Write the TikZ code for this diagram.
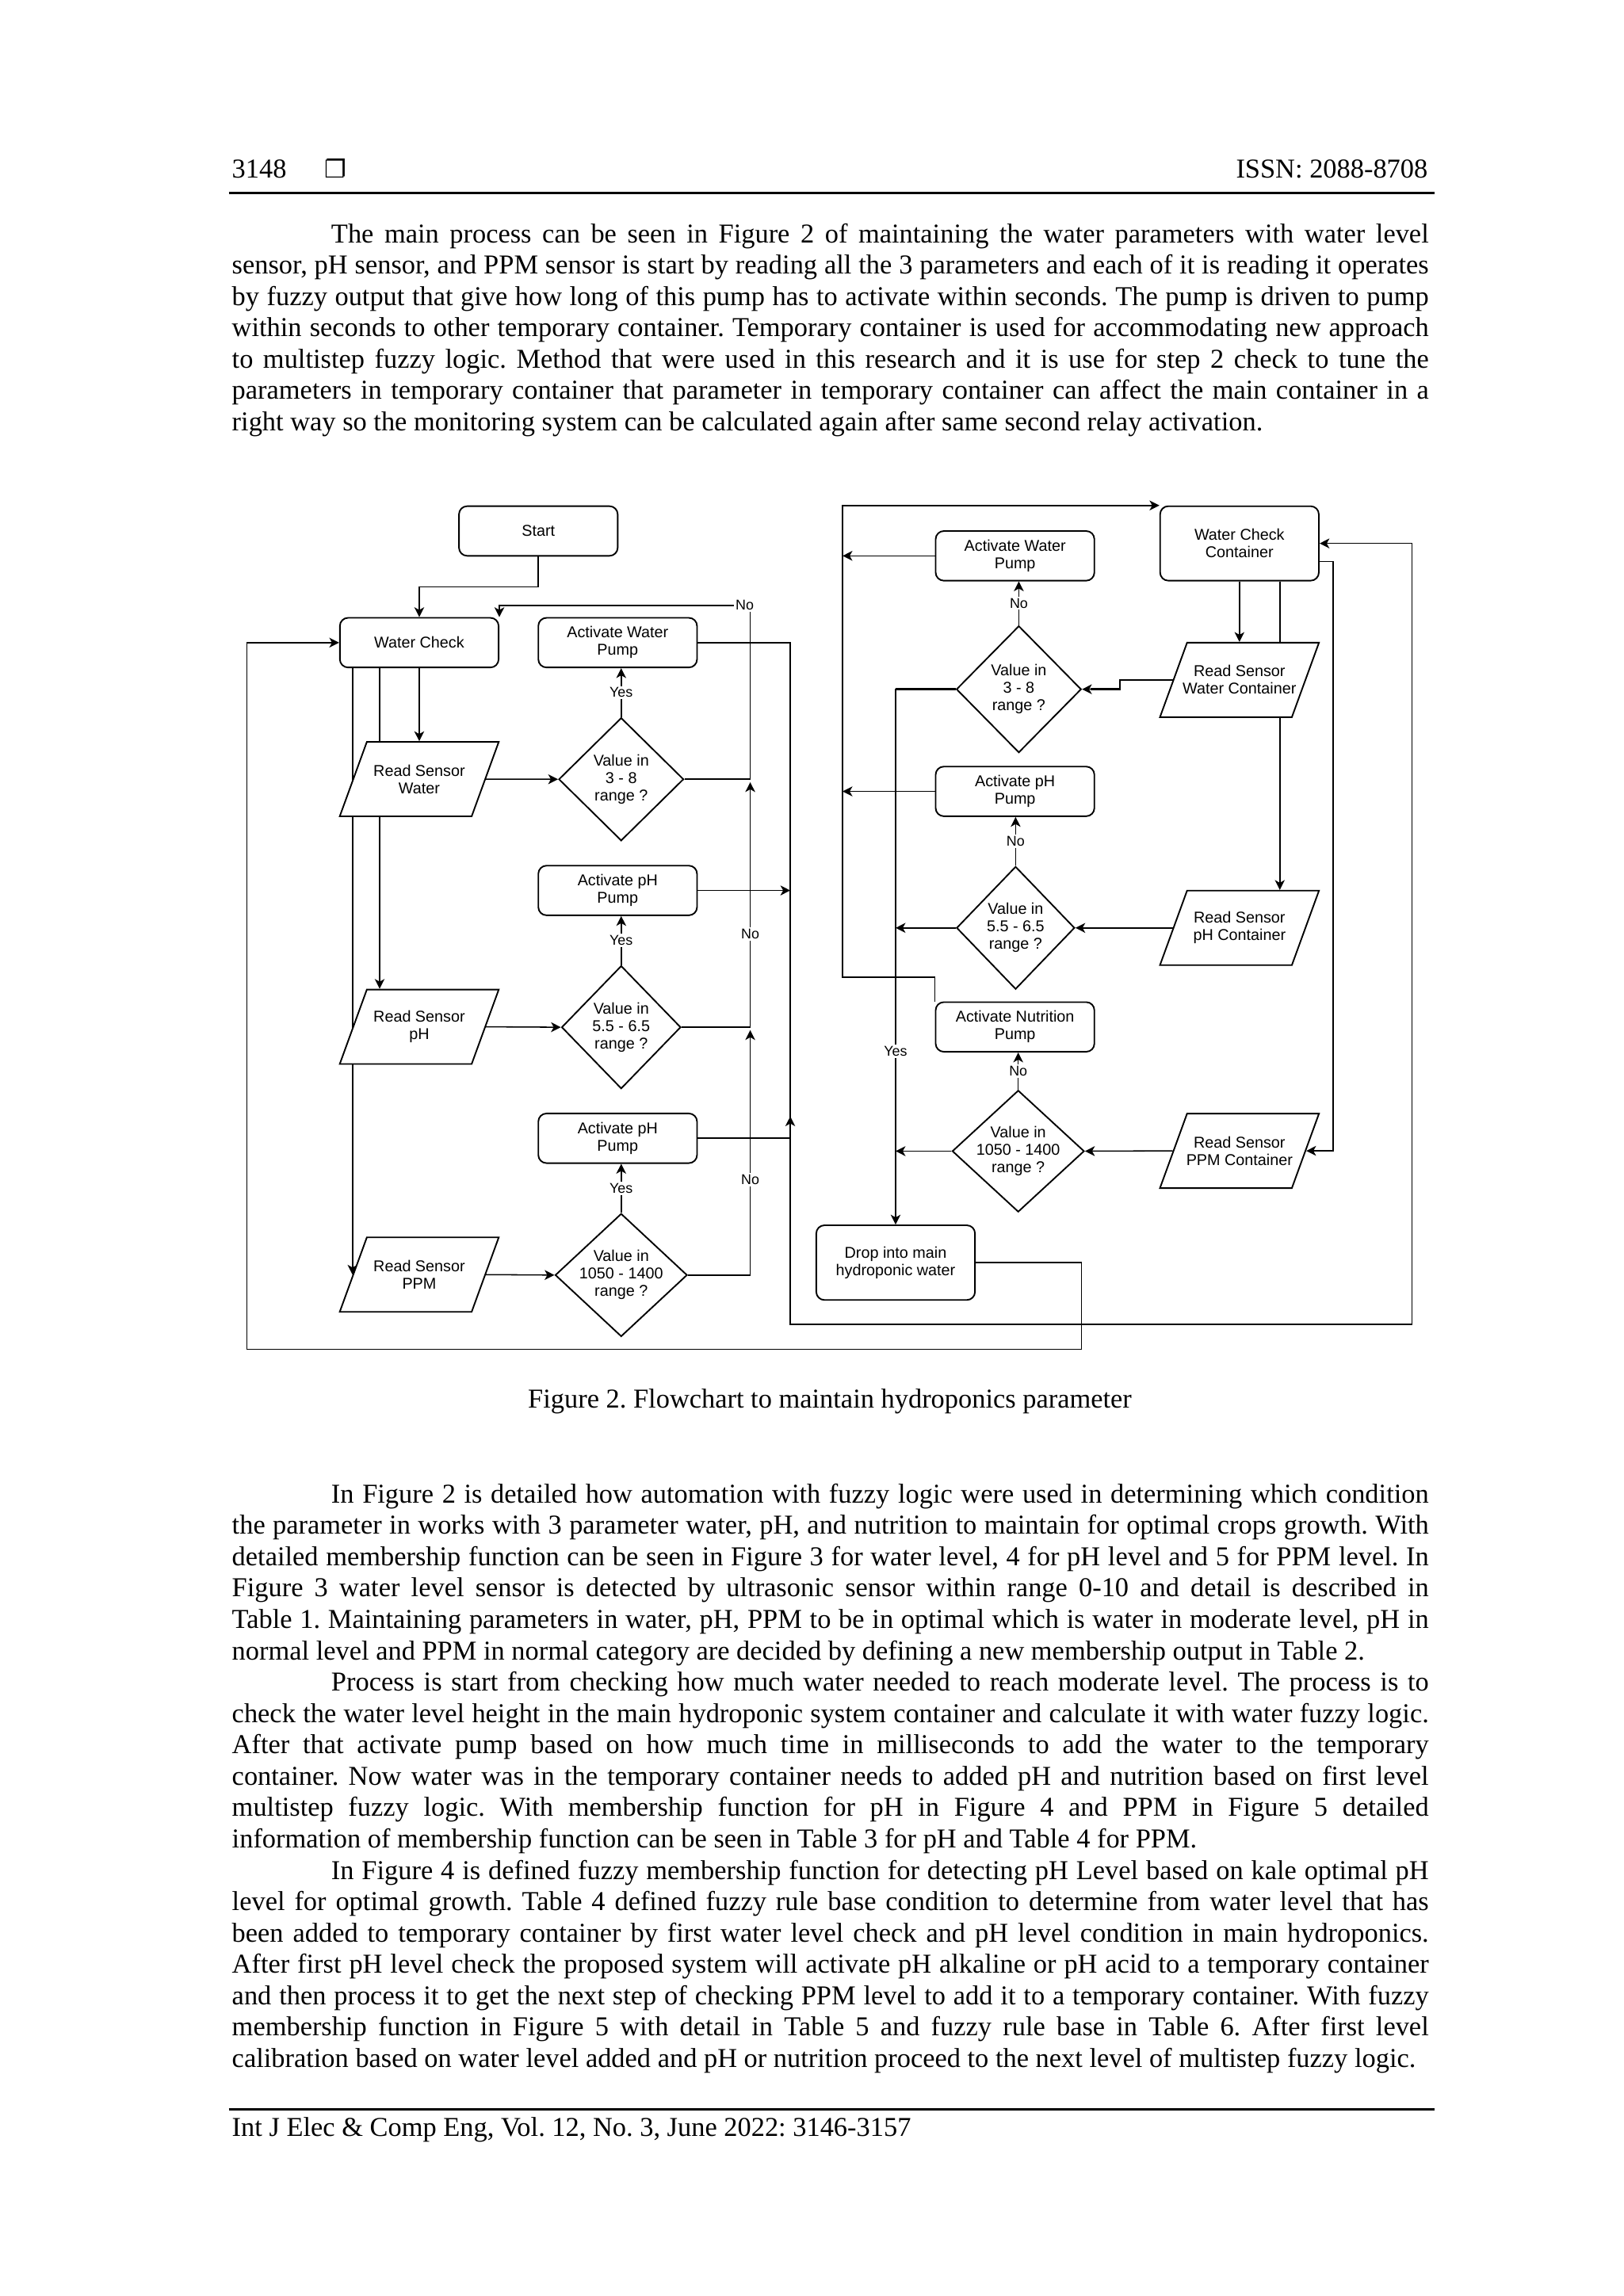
\documentclass[tikz,border=0pt]{standalone}
\usepackage{fontspec}
\setmainfont{Liberation Serif}
\newfontfamily\chartfont{Liberation Sans}
\newfontfamily\boxsym{DejaVu Sans}
\usetikzlibrary{shapes.geometric,arrows.meta,calc,backgrounds}
\tolerance=10000
\hyphenpenalty=10000
\frenchspacing

\begin{document}
\begin{tikzpicture}[x=0.5358pt, y=-0.5358pt,
    body/.style={anchor=base west, inner sep=0pt, text width=438.8pt, align=justify, font=\fontsize{10}{11.5}\selectfont},
    proc/.style={rectangle, draw, rounded corners=3pt, fill=white, line width=0.55pt, minimum width=58.2pt, minimum height=18.2pt, inner sep=1pt, align=center, font=\chartfont\fontsize{5.75}{6.4}\selectfont},
    inout/.style={trapezium, trapezium left angle=70, trapezium right angle=110, trapezium stretches body, draw, fill=white, line width=0.55pt, minimum width=58.3pt, inner sep=0pt, text height=13.65pt, text depth=13.65pt},
    dec/.style={diamond, draw, fill=white, line width=0.55pt, inner sep=0pt, minimum height=45.1pt},
    ftext/.style={align=center, inner sep=0pt, font=\chartfont\fontsize{5.75}{6.4}\selectfont},
    lbl/.style={fill=white, inner sep=0.6pt, font=\chartfont\fontsize{5.2}{5.2}\selectfont},
    wire/.style={line width=0.45pt},
    arr/.style={wire, -{Stealth[length=3.6pt, width=3.6pt, inset=1pt]}}]

    \useasboundingbox (0,0) rectangle (1111,1571.3);
    \begin{pgfonlayer}{background}
        \fill[white] (0,0) rectangle (1111,1571.3);
    \end{pgfonlayer}

    % Page header
    \node[anchor=base west, inner sep=0pt, font=\fontsize{10}{11.5}\selectfont] (pageno) at (158.4,122) {3148};
    \node[anchor=base west, inner sep=0pt, font=\boxsym\fontsize{9}{9}\selectfont] (sym) at (222,122) {❐};
    \node[anchor=base east, inner sep=0pt, font=\fontsize{10}{11.5}\selectfont] (issn) at (977.4,122) {ISSN: 2088-8708};
    \draw[line width=0.7pt] (156.5,132) -- (981.5,132);

    % Text above the figure
    \node[body] (par1) at (158.4,166) {\hspace*{36.4pt}The main process can be seen in Figure 2 of maintaining the water parameters with water level\linebreak
sensor, pH sensor, and PPM sensor is start by reading all the 3 parameters and each of it is reading it operates\linebreak
by fuzzy output that give how long of this pump has to activate within seconds. The pump is driven to pump\linebreak
within seconds to other temporary container. Temporary container is used for accommodating new approach\linebreak
to multistep fuzzy logic. Method that were used in this research and it is use for step 2 check to tune the\linebreak
parameters in temporary container that parameter in temporary container can affect the main container in a\linebreak
right way so the monitoring system can be calculated again after same second relay activation.};

    % Define nodes (left part)
    \node[proc] (start) at (368.4,363.4) {Start};
    \node[proc] (wcheck) at (286.9,439.8) {Water Check};
    \node[proc] (awpL) at (422.7,439.8) {Activate Water\\Pump};
    \node[inout, label={[ftext]center:{Read Sensor\\Water}}] (rsw) at (286.9,533.2) {};
    \node[dec, minimum width=45.8pt, label={[ftext]center:{Value in\\3 - 8\\range ?}}] (d1) at (425.1,533.3) {};
    \node[proc] (aphL1) at (422.7,609.4) {Activate pH\\Pump};
    \node[dec, minimum width=43.7pt, label={[ftext]center:{Value in\\5.5 - 6.5\\range ?}}] (d2) at (425.1,703) {};
    \node[inout, label={[ftext]center:{Read Sensor\\pH}}] (rsph) at (286.9,702.7) {};
    \node[proc] (aphL2) at (422.7,779) {Activate pH\\Pump};
    \node[dec, minimum width=48.4pt, label={[ftext]center:{Value in\\1050 - 1400\\range ?}}] (d3) at (425.1,872.6) {};
    \node[inout, label={[ftext]center:{Read Sensor\\PPM}}] (rsppm) at (286.9,872.3) {};

    % Define nodes (right part)
    \node[proc] (awpR) at (694.6,380.4) {Activate Water\\Pump};
    \node[proc, minimum height=27.3pt] (wcc) at (848.2,371.9) {Water Check\\Container};
    \node[dec, minimum width=45.8pt, minimum height=46.5pt, label={[ftext]center:{Value in\\3 - 8\\range ?}}] (d4) at (697.2,471.7) {};
    \node[inout, label={[ftext]center:{Read Sensor\\Water Container}}] (rswc) at (848.2,465.3) {};
    \node[proc] (aphR) at (694.6,541.6) {Activate pH\\Pump};
    \node[dec, minimum width=43.3pt, minimum height=45pt, label={[ftext]center:{Value in\\5.5 - 6.5\\range ?}}] (d5) at (695,635) {};
    \node[inout, label={[ftext]center:{Read Sensor\\pH Container}}] (rsphc) at (848.2,635) {};
    \node[proc] (anp) at (694.6,702.8) {Activate Nutrition\\Pump};
    \node[dec, minimum width=48.4pt, minimum height=44.6pt, label={[ftext]center:{Value in\\1050 - 1400\\range ?}}] (d6) at (696.8,787.8) {};
    \node[inout, label={[ftext]center:{Read Sensor\\PPM Container}}] (rsppmc) at (848.2,787.6) {};
    \node[proc, minimum height=27.4pt] (drop) at (612.9,864.1) {Drop into main\\hydroponic water};

    % Bend points
    \coordinate (noTop) at (513.4,414.3);
    \coordinate (midR) at (540.8,906.3);
    \coordinate (farR) at (966.3,906.3);
    \coordinate (lowR) at (740,923.5);
    \coordinate (lowL) at (169,923.5);
    \coordinate (leftBend) at (576.6,668.9);

    % Draw edges
    \begin{pgfonlayer}{background}
    \draw[arr] (start.south) -- ++(0,20.8) -| (wcheck.north);
    \draw[arr] (wcheck.south) -- (rsw.north);
    \draw[arr] ($(wcheck.south)+(-27.1,0)$) -- ($(rsph.north)+(-27.1,0)$);
    \draw[arr] (wcheck.south -| rsppm.west) -- (rsppm.west);
    \draw[arr] (rsw.east) -- (d1.west);
    \draw[arr] (rsph.east) -- (d2.west);
    \draw[arr] (rsppm.east) -- (d3.west);
    \draw[arr] (d1.north) -- node[lbl] {Yes} (d1.north |- awpL.south);
    \draw[arr] (d2.north) -- node[lbl] {Yes} (d2.north |- aphL1.south);
    \draw[arr] (d3.north) -- node[lbl] {Yes} (d3.north |- aphL2.south);
    \draw[arr] (d1.east) -| (noTop) node[lbl, xshift=-2pt] {No} -| (wcheck.north east);
    \draw[arr] (d2.east) -| node[lbl, pos=0.69] {No} ($(d1.east -| noTop)+(0,2)$);
    \draw[arr] (d3.east) -| node[lbl, pos=0.695] {No} ($(d2.east -| noTop)+(0,2)$);
    \draw[arr] (aphL1.east) -- (aphL1.east -| midR);
    \draw[arr] (aphL2.east) -| ($(aphL2.east -| midR)+(0,-15)$);
    \draw[arr] (awpL.east) -| (midR) -- (farR) |- (wcc.east);
    \draw[arr] (drop.east) -| (lowR) -- (lowL) |- (wcheck.west);

    \draw[arr] (anp.north west) |- (leftBend) |- (wcc.north west);
    \draw[arr] (awpR.west) -- (awpR.west -| leftBend);
    \draw[arr] (aphR.west) -- (aphR.west -| leftBend);
    \draw[arr] (wcc.south) -- (rswc.north);
    \draw[arr] ($(wcc.south)+(27.6,0)$) -- ($(rsphc.north)+(27.6,0)$);
    \draw[arr] ($(wcc.east)+(0,12.4)$) -- ++(9.3,0) |- (rsppmc.east);
    \draw[arr] (rswc.west) -- ++(-36.2,0) |- (d4.east);
    \draw[line width=1pt] ($(d4.east)+(6,0)$) -- ($(d4.east)+(26.5,0)$);
    \draw[arr] (d4.north) -- node[lbl] {No} (d4.north |- awpR.south);
    \draw[arr] (d5.north) -- node[lbl] {No} (d5.north |- aphR.south);
    \draw[arr] (d6.north) -- node[lbl] {No} (d6.north |- anp.south);
    \draw[line width=1pt] (d4.west) -- (d4.west -| drop.north);
    \draw[arr] (d4.west) -| node[lbl, pos=0.838] {Yes} (drop.north);
    \draw[arr] (d5.west) -- (d5.west -| drop.north);
    \draw[arr] (d6.west) -- (d6.west -| drop.north);
    \draw[arr] (rsphc.west) -- (d5.east);
    \draw[arr] (rsppmc.west) -- (d6.east);
    \end{pgfonlayer}

    % Caption and text below the figure
    \node[anchor=base, inner sep=0pt, font=\fontsize{10}{11.5}\selectfont] (caption) at (567.9,963.5) {Figure 2. Flowchart to maintain hydroponics parameter};

    \node[body] (par2) at (158.4,1028.5) {\hspace*{36.4pt}In Figure 2 is detailed how automation with fuzzy logic were used in determining which condition\linebreak
the parameter in works with 3 parameter water, pH, and nutrition to maintain for optimal crops growth. With\linebreak
detailed membership function can be seen in Figure 3 for water level, 4 for pH level and 5 for PPM level. In\linebreak
Figure 3 water level sensor is detected by ultrasonic sensor within range 0-10 and detail is described in\linebreak
Table 1. Maintaining parameters in water, pH, PPM to be in optimal which is water in moderate level, pH in\linebreak
normal level and PPM in normal category are decided by defining a new membership output in Table 2.\par
\hspace*{36.4pt}Process is start from checking how much water needed to reach moderate level. The process is to\linebreak
check the water level height in the main hydroponic system container and calculate it with water fuzzy logic.\linebreak
After that activate pump based on how much time in milliseconds to add the water to the temporary\linebreak
container. Now water was in the temporary container needs to added pH and nutrition based on first level\linebreak
multistep fuzzy logic. With membership function for pH in Figure 4 and PPM in Figure 5 detailed\linebreak
information of membership function can be seen in Table 3 for pH and Table 4 for PPM.\par
\hspace*{36.4pt}In Figure 4 is defined fuzzy membership function for detecting pH Level based on kale optimal pH\linebreak
level for optimal growth. Table 4 defined fuzzy rule base condition to determine from water level that has\linebreak
been added to temporary container by first water level check and pH level condition in main hydroponics.\linebreak
After first pH level check the proposed system will activate pH alkaline or pH acid to a temporary container\linebreak
and then process it to get the next step of checking PPM level to add it to a temporary container. With fuzzy\linebreak
membership function in Figure 5 with detail in Table 5 and fuzzy rule base in Table 6. After first level\linebreak
calibration based on water level added and pH or nutrition proceed to the next level of multistep fuzzy logic.};

    % Page footer
    \draw[line width=0.8pt] (156.5,1443.5) -- (981.5,1443.5);
    \node[anchor=base west, inner sep=0pt, font=\fontsize{10}{11.5}\selectfont] (footer) at (158.4,1462) {Int J Elec \& Comp Eng, Vol. 12, No. 3, June 2022: 3146-3157};
\end{tikzpicture}
\end{document}
